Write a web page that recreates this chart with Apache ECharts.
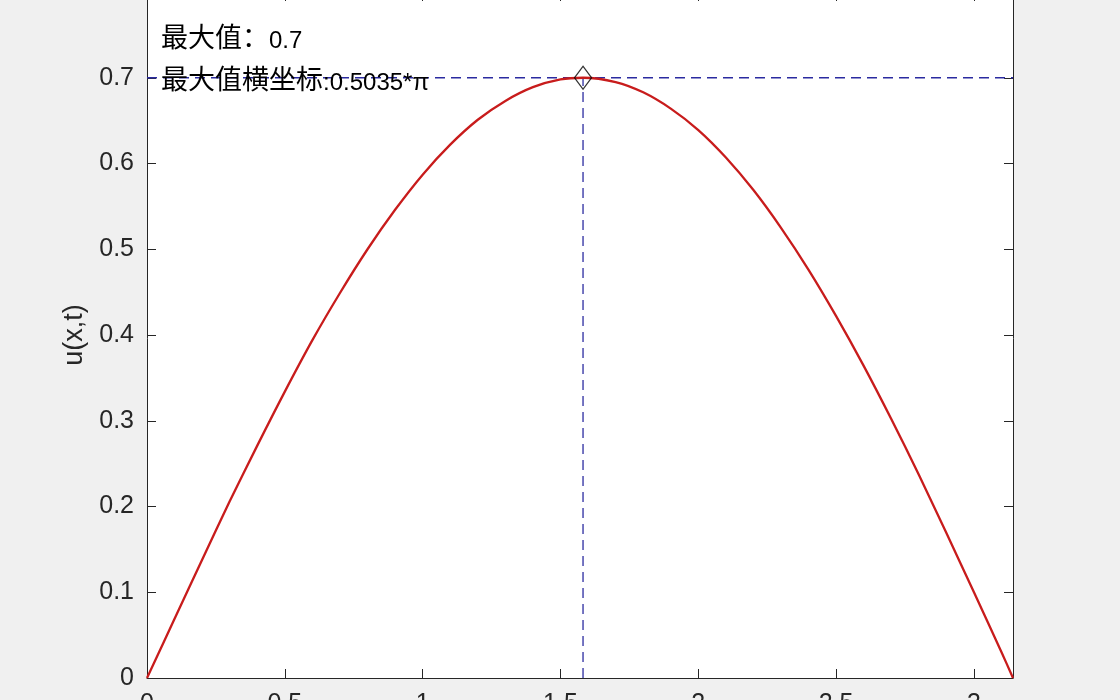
<!DOCTYPE html>
<html>
<head>
<meta charset="utf-8">
<style>
  html, body { margin: 0; padding: 0; background: #f0f0f0; }
  #main { width: 1120px; height: 700px; }
</style>
<script src="https://cdn.jsdelivr.net/npm/echarts@6/dist/echarts.min.js"></script>
</head>
<body>
<div id="main"></div>
<script>
// values
const xValues = [0, 0.1, 0.2, 0.3, 0.4, 0.5, 0.6, 0.7, 0.8, 0.9, 1.0, 1.1, 1.2, 1.3, 1.4, 1.5,
  1.5818, 1.7, 1.8, 1.9, 2.0, 2.1, 2.2, 2.3, 2.4, 2.5, 2.6, 2.7, 2.8, 2.9, 3.0, 3.1, 3.1416]
const uValues = [0, 0.069, 0.138, 0.206, 0.271, 0.334, 0.394, 0.449, 0.500, 0.546, 0.587, 0.622, 0.651, 0.673, 0.689, 0.698,
  0.700, 0.695, 0.683, 0.664, 0.639, 0.607, 0.569, 0.525, 0.476, 0.422, 0.364, 0.302, 0.237, 0.169, 0.100, 0.030, 0]
const peakX = 1.5818
const peakY = 0.7
const xMax = 3.1416
const yTicks = { min: 0, max: 0.8, step: 0.1 }
const xTicks = { min: 0, max: xMax, step: 0.5 }
const note1 = ['最大值：', '0.7']
const note2 = ['最大值横坐标', ':0.5035*π']

const font = '"Liberation Sans", Arial, "Noto Sans CJK SC", sans-serif'
const cjkFont = '"Noto Sans CJK SC", sans-serif'
const axisColor = '#262626'
const dashColor = '#2b2ba0'

let chartDom = document.getElementById('main')
let myChart = echarts.init(chartDom)

function boxAxis(pos, isX, showLabel) {
  return {
    type: 'value',
    position: pos,
    min: isX ? xTicks.min : yTicks.min,
    max: isX ? xTicks.max : yTicks.max,
    interval: isX ? xTicks.step : yTicks.step,
    axisLine: { show: true, onZero: false, lineStyle: { color: axisColor, width: 1 } },
    axisTick: { show: true, inside: true, length: 9, lineStyle: { color: axisColor } },
    splitLine: { show: false },
    axisLabel: {
      show: showLabel,
      color: axisColor,
      fontFamily: font,
      fontSize: 25,
      margin: isX ? 14 : 13,
      showMaxLabel: true,
      hideOverlap: false,
      formatter: (v) => String(Math.round(v * 10) / 10),
    },
  }
}

let xBottom = boxAxis('bottom', true, true)
xBottom.axisLabel.showMaxLabel = false

let yLeft = boxAxis('left', false, true)
yLeft.name = 'u(x,t)'
yLeft.nameLocation = 'middle'
yLeft.nameRotate = 90
yLeft.nameGap = 59
yLeft.nameTextStyle = { color: axisColor, fontFamily: font, fontSize: 27 }

// wider CJK glyphs and narrower latin digits, like the original figure
function noteText(parts, top) {
  return {
    type: 'text',
    left: 161,
    top: top,
    z: 100,
    style: {
      text: '{c|' + parts[0] + '}{n|' + parts[1] + '}',
      rich: {
        c: { fontFamily: cjkFont, fontSize: 27, fill: '#000', lineHeight: 34 },
        n: { fontFamily: font, fontSize: 24, fill: '#000', lineHeight: 34, padding: [8, 0, 0, 0] },
      },
    },
  }
}

let option = {
  backgroundColor: '#f0f0f0',
  animation: false,
  grid: {
    left: 147,
    right: 107,
    top: -8,
    bottom: 22,
    outerBoundsMode: 'none',
    containLabel: false,
    show: true,
    backgroundColor: '#ffffff',
    borderWidth: 0,
  },
  xAxis: [xBottom, boxAxis('top', true, false)],
  yAxis: [yLeft, boxAxis('right', false, false)],
  graphic: [noteText(note1, 21), noteText(note2, 63)],
  series: [
    {
      type: 'line',
      data: [[xTicks.min, peakY], [xTicks.max, peakY]],
      showSymbol: false,
      lineStyle: { color: dashColor, width: 1.3, type: [10, 6] },
      z: 3,
    },
    {
      type: 'line',
      data: [[peakX, 0], [peakX, peakY]],
      showSymbol: false,
      lineStyle: { color: dashColor, width: 1.3, type: [10, 6] },
      z: 3,
    },
    {
      type: 'line',
      data: xValues.map((x, i) => [x, uValues[i]]),
      showSymbol: false,
      smooth: 0.3,
      lineStyle: { color: '#c81c1c', width: 2.3 },
      z: 4,
    },
    {
      type: 'scatter',
      data: [[peakX, peakY]],
      symbol: 'diamond',
      symbolSize: [17, 23],
      itemStyle: { color: 'rgba(0,0,0,0)', borderColor: '#000', borderWidth: 1.3 },
      z: 5,
    },
  ],
}
myChart.setOption(option)
window.addEventListener('resize', () => {
  myChart.resize()
})
</script>
</body>
</html>
